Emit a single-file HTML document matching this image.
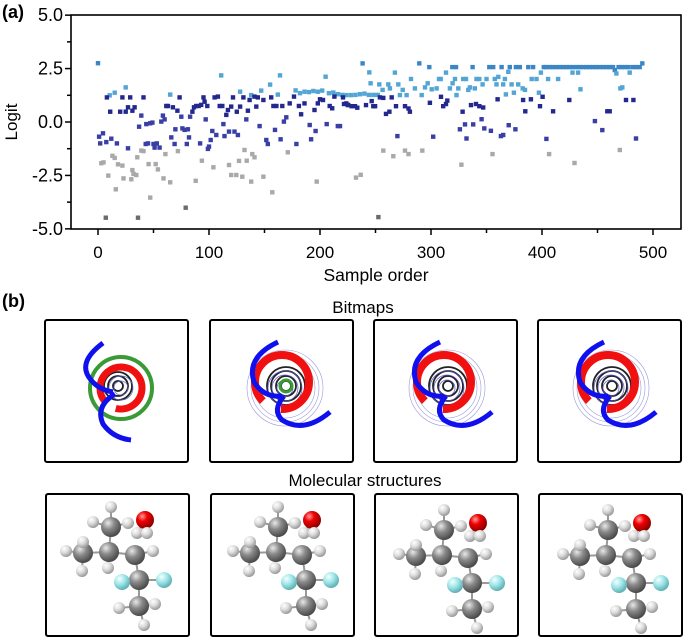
<!DOCTYPE html>
<html><head><meta charset="utf-8">
<style>
html,body{margin:0;padding:0;background:#fff;}
svg{display:block;font-family:"Liberation Sans",Arial,sans-serif;}
</style></head>
<body>
<svg id="fig" width="685" height="640" viewBox="0 0 685 640" xmlns="http://www.w3.org/2000/svg">
<defs>
<radialGradient id="gC" cx="35%" cy="30%" r="70%"><stop offset="0" stop-color="#e8e8e8"/><stop offset="0.45" stop-color="#8a8a8a"/><stop offset="1" stop-color="#4a4a4a"/></radialGradient>
<radialGradient id="gH" cx="35%" cy="30%" r="70%"><stop offset="0" stop-color="#ffffff"/><stop offset="0.5" stop-color="#dcdcdc"/><stop offset="1" stop-color="#9a9a9a"/></radialGradient>
<radialGradient id="gO" cx="35%" cy="30%" r="70%"><stop offset="0" stop-color="#ff9a9a"/><stop offset="0.4" stop-color="#ee0000"/><stop offset="1" stop-color="#8a0000"/></radialGradient>
<radialGradient id="gF" cx="35%" cy="30%" r="70%"><stop offset="0" stop-color="#f4ffff"/><stop offset="0.5" stop-color="#9fe6e8"/><stop offset="1" stop-color="#5fb0b4"/></radialGradient>
</defs>
<text x="2" y="18" font-size="18" font-weight="bold">(a)</text>
<text x="2" y="307" font-size="18" font-weight="bold">(b)</text>
<g id="chart"></g>
<text x="363" y="313" font-size="17" text-anchor="middle">Bitmaps</text>
<text x="365" y="486" font-size="17" text-anchor="middle">Molecular structures</text>
<g id="bitmaps"></g>
<g id="mols"></g>
</svg>
<script>
const xTicks = [0,100,200,300,400,500];
const yTicks = [5.0,2.5,0.0,-2.5,-5.0];
const yTickLabels = ["5.0","2.5","0.0","-2.5","-5.0"];
const sampleX = [
0,10.5,15,25,65,111,128,138,147,155,162,164,205,
178,182,186,190,194,198,202,208,212,216,220,224,228,232,236,240,244,248,252,
1,2,4.5,7.5,8,12,11,17,20,22,25,27,27,29,31,33,37,39,41,43,43.5,45,47,49,50,51,53,55.5,57,58.5,60,61.5,63,66,67.5,69,69.7,71.5,73.5,75,76,78,80,81,82,83,85,86.5,88.5,90.7,92,93,95,96,97,98.5,100,101.5,103,105,106.6,108,109.6,112,113,114,115.6,117,118,120,121.6,123,125,126,128,131,133.6,135,136.6,141,142.6,144,145.6,149,151.6,153,156,158,159.5,160.7,164.5,166,167.5,169.6,172.7,176.6,178.7,181,183,186,190.7,192,195,196,198,200,202.7,206,208.7,211,213,216,218,220.7,223.7,225,
221.6,225.5,228.5,231.5,233.6,241.4,246.6,248,249.6,254,257,259.5,262.5,264.6,268.5,269.7,276.6,279.7,281,299,302,309,311,313.5,314.7,326,328.5,330.6,332,336,338,340.5,343.5,345.6,347,348,354,360,363,365,370,376,383,385,390,398.2,404,410,424.6,447.7,454.3,458.8,461,475.7,482.3,484.7,
3,5,7,9.3,13,15,16,18,22,23,30,31,32,34.5,35.4,36,39,41,45.6,47,52,54,59,60.7,65,72,79,93.6,88,99,104,118,120,124.6,127,130,132,134,138,139,141,149,157,171,197,
232.4,236.7,252.6,257,266,276.6,279.7,292.2,327.4,355.4,406.4,429.3,470.1,
238.4,244.4,245.6,253.4,256.4,261.5,263,267.5,270.5,272,274.5,278,282,285.5,289.5,291.6,294.6,297,298.5,300.6,305,307.2,308.7,313.5,317,319.5,321.6,323,324.6,319.2,322.5,329,331.5,333.6,335,337.5,339.5,341,343.5,346.5,350,352.5,356,357.5,359,360.6,363.6,365,366.6,367.5,369.6,371,372.6,374.7,376.5,378.6,380,382.6,384.7,387.7,390.7,392,395,397.2,399,400.5,401.6,405.5,414.5,427.5,432.5,434.7,465.6,467,470.6,472.3,479,490.4,
404,407,410,413,416,419,422,425,428,431,434,437,440,443,446,449,452,455,458,461,464,469,472,475,478,482,485,488
];
const logitY = [
2.75,1.25,1.37,1.62,1.28,2.18,1.42,1.26,1.47,1.75,1.28,2.18,2.12,
1.48,1.35,1.42,1.4,1.45,1.42,1.47,1.35,1.38,1.3,1.27,1.26,1.26,1.27,1.3,1.33,1.27,1.27,1.27,
-0.69,-1.0,-0.53,-0.94,1.15,-0.78,0.48,-1.0,0.48,1.15,0.48,0.69,-1.23,1.15,0.53,0.69,-0.22,0.3,1.15,-1.03,-0.1,-1.0,-0.06,-0.03,-1.03,-1.2,-1.0,-1.2,0.02,0.3,0.12,0.75,0.75,-0.72,0.69,-1.03,-0.34,0.53,1.15,0.25,-0.3,-0.37,-1.03,-0.34,-0.72,0.25,0.48,0.69,0.75,0.75,-1.0,0.8,1.15,0.95,0.12,0.75,-1.15,-0.84,-0.42,1.15,-0.61,1.19,0.75,0.75,-0.1,-0.66,0.33,0.56,-0.45,0.72,1.15,-0.45,0.48,-0.61,0.72,1.15,0.12,0.53,1.03,1.19,0.72,1.15,-0.19,1.03,-0.84,-1.03,1.15,0.75,-0.37,0.75,-0.81,0.75,0.02,0.22,0.87,1.19,-1.03,0.75,0.36,0.87,-0.14,-0.81,0.56,-0.42,0.87,1.06,1.03,-0.1,0.75,0.64,1.19,-0.19,-0.19,1.15,0.87,0.8,
0.84,0.79,0.74,0.74,0.67,0.79,0.98,0.74,0.74,1.15,1.13,0.38,0.48,1.15,0.74,-0.66,0.74,0.63,0.48,0.9,-0.69,1.18,0.74,0.84,1.0,-0.34,0.48,-0.11,-0.77,0.79,-0.11,0.84,0.74,0.13,0.68,-0.3,-0.41,1.06,-0.66,-0.61,-0.15,-0.34,1.03,0.5,1.06,0.74,-0.79,0.5,1.03,0.04,-0.38,0.5,0.5,1.03,1.03,-0.77,
-1.93,-1.89,-4.48,-2.51,-1.58,-1.68,-3.15,-1.98,-2.04,-2.64,-2.68,-2.25,-2.43,-2.48,-1.65,-4.48,-1.34,-1.36,-1.97,-3.54,-1.97,-2.22,-2.64,-1.5,-2.82,-1.36,-4.01,-1.81,-2.75,-1.26,-2.12,-2.01,-2.48,-2.48,-1.82,-2.56,-1.31,-1.81,-2.79,-1.5,-1.65,-2.56,-3.29,-1.42,-2.79,
-2.6,-2.47,-4.45,-1.34,-1.6,-1.34,-1.5,-1.34,-2.0,-1.5,-1.5,-1.92,-1.31,
2.74,2.32,1.81,1.76,1.5,1.76,1.57,2.31,1.76,1.26,1.5,1.26,2.01,1.57,2.74,1.26,1.62,1.81,2.57,1.53,1.57,2.01,2.01,2.31,1.57,1.81,2.01,1.26,1.57,2.57,2.57,2.01,2.01,1.5,1.62,2.57,1.57,2.01,2.01,1.76,2.01,2.57,2.57,2.01,1.76,2.11,2.57,1.76,2.01,1.29,2.35,2.57,1.76,1.37,2.57,1.76,2.57,1.57,1.5,2.57,2.01,2.57,2.01,1.37,2.31,1.18,2.57,2.01,2.01,2.31,2.31,1.53,2.43,2.27,1.57,1.62,2.31,2.74,
2.57,2.57,2.57,2.57,2.57,2.57,2.57,2.57,2.57,2.57,2.57,2.57,2.57,2.57,2.57,2.57,2.57,2.57,2.57,2.57,2.57,2.57,2.57,2.57,2.57,2.57,2.57,2.57
];
const NS="http://www.w3.org/2000/svg";
function mk(tag,attrs,parent){const e=document.createElementNS(NS,tag);for(const k in attrs)e.setAttribute(k,attrs[k]);parent.appendChild(e);return e;}
const L=71,R=681,T=15,B=229;
function xs(v){return 98+v*1.11;}
function ys(v){return 122-v*21.37;}
function col(v){if(v>2.4)return "#3d86c6";if(v>1.2)return "#52a5d4";if(v>0.3)return "#23288e";if(v>-1.3)return "#3a3fa6";if(v>-3.8)return "#a9a9a9";return "#6b6b6b";}
const chart=document.getElementById('chart');
const pts=mk('g',{},chart);


for(let i=0;i<sampleX.length;i++){
  const r=mk('rect',{x:(xs(sampleX[i])-2.2).toFixed(1),y:(ys(logitY[i])-2.2).toFixed(1),width:4.4,height:4.4,fill:col(logitY[i])},pts);
  
  
}
const frame=mk('rect',{x:L,y:T,width:R-L,height:B-T,fill:'none',stroke:'#000','stroke-width':1.6},chart);


const yax=mk('g',{},chart);


for(let v=-5;v<=5.01;v+=1.25){mk('line',{x1:L,x2:L-(Math.abs(v%2.5)<0.01?6:4),y1:ys(v),y2:ys(v),stroke:'#000','stroke-width':1.5},yax);}
yTicks.forEach((v,i)=>{
const t=mk('text',{x:63,y:ys(v)+6,'font-size':18,'text-anchor':'end'},yax);t.textContent=yTickLabels[i];

});
const xax=mk('g',{},chart);


for(let v=0;v<=500;v+=50){mk('line',{x1:xs(v),x2:xs(v),y1:B,y2:B+(v%100===0?6:4),stroke:'#000','stroke-width':1.5},xax);}
xTicks.forEach(v=>{const t=mk('text',{x:xs(v),y:258,'font-size':17,'text-anchor':'middle'},xax);t.textContent=String(v);

});
const xt=mk('text',{x:376,y:281,'font-size':17.5,'text-anchor':'middle'},chart);xt.textContent='Sample order';


const yt=mk('text',{x:17,y:122,'font-size':17,'text-anchor':'middle',transform:'rotate(-90 17 122)'},chart);yt.textContent='Logit';



// bitmaps
const bm=document.getElementById('bitmaps');
const boxX=[45,210,374,538];
function ring(g,cx,cy,r,color,w,gapFrac,rot){
  const c=2*Math.PI*r;
  mk('circle',{cx:cx,cy:cy,r:r,fill:'none',stroke:color,'stroke-width':w,'stroke-dasharray':`${c*(1-gapFrac)} ${c*gapFrac}`,transform:`rotate(${rot} ${cx} ${cy})`},g);
}
function spiral(g,k,bx){
  const by=320;
  mk('rect',{x:bx,y:by,width:143,height:142,rx:2,fill:'#fff',stroke:'#000','stroke-width':2},g);
  if(k===0){
    const cx=bx+76,cy=by+68;
    mk('circle',{cx:cx,cy:cy,r:31,fill:'none',stroke:'#3a9a35','stroke-width':4},g);
    [5,10,14].forEach(r=>mk('circle',{cx:cx-3,cy:cy-2,r:r,fill:'none',stroke:'#222','stroke-width':1.8},g));
    [7,12].forEach(r=>mk('circle',{cx:cx,cy:cy,r:r,fill:'none',stroke:'#6666cc','stroke-width':0.7},g));
    ring(g,cx,cy,21,'#f01010',7,0.1,140);
    mk('path',{d:`M${cx-18} ${cy-45} Q${cx-45} ${cy-25} ${cx-30} ${cy-8} Q${cx-22} ${cy+2} ${cx-8} ${cy+4}`,fill:'none',stroke:'#1010ee','stroke-width':5},g);
    mk('path',{d:`M${cx-6} ${cy+6} Q${cx-26} ${cy+18} ${cx-18} ${cy+36} Q${cx-8} ${cy+50} ${cx+10} ${cy+52}`,fill:'none',stroke:'#1010ee','stroke-width':5},g);
  } else {
    const cx=bx+(k===1?72:70),cy=by+62;
    [30,34,38].forEach(r=>mk('circle',{cx:cx+3,cy:cy+6,r:r,fill:'none',stroke:'#9999dd','stroke-width':0.6},g));
    [5,10,15,19].forEach(r=>mk('circle',{cx:cx+4,cy:cy+4,r:r,fill:'none',stroke:'#222','stroke-width':1.8},g));
    [8,13,17].forEach(r=>mk('circle',{cx:cx+3,cy:cy+6,r:r,fill:'none',stroke:'#5555cc','stroke-width':0.7},g));
    if(k===1)mk('circle',{cx:cx+4,cy:cy+4,r:6,fill:'none',stroke:'#3a9a35','stroke-width':3},g);
    ring(g,cx,cy,27,'#f01010',8,0.12,135);
    mk('path',{d:`M${cx-4} ${cy-40} Q${cx-36} ${cy-25} ${cx-28} ${cy} Q${cx-18} ${cy+16} ${cx} ${cy+14}`,fill:'none',stroke:'#1010ee','stroke-width':5},g);
    mk('path',{d:`M${cx+2} ${cy+14} Q${cx-10} ${cy+28} ${cx} ${cy+38} Q${cx+22} ${cy+52} ${cx+48} ${cy+30}`,fill:'none',stroke:'#1010ee','stroke-width':5},g);
  }
}
boxX.forEach((bx,k)=>{const g=mk('g',{},bm);


spiral(g,k,bx);});

// molecules
const mo=document.getElementById('mols');
const atoms=[
['C',65,33],['C',63,58],['C',37,59],['C',89,61],['C',93,86],['C',93,112],
['O',99,26],['F',76,88],['F',118,86],
['H',65,13],['H',47,28],['H',82,29],['H',91,39],['H',101,39],['H',37,48],['H',20,57],['H',36,77],['H',62,74],['H',107,57],['H',73,114],['H',109,110],['H',98,131]];
const bonds=[[0,1],[1,2],[1,3],[3,4],[4,5],[4,7],[4,8],[0,9],[0,10],[0,11],[6,12],[6,13],[2,14],[2,15],[2,16],[1,17],[3,18],[5,19],[5,20],[5,21]];
const molX=[46,211,375,539];
const shifts=[[0,0],[2,0],[4,3],[4,3]];
molX.forEach((bx,k)=>{
  const g=mk('g',{},mo);
  
  
  const by=494;
  mk('rect',{x:bx,y:by,width:143,height:142,rx:2,fill:'#fff',stroke:'#000','stroke-width':2},g);
  const sx=shifts[k][0],sy=shifts[k][1];
  bonds.forEach(b=>{const a=atoms[b[0]],c=atoms[b[1]];mk('line',{x1:bx+a[1]+sx,y1:by+a[2]+sy,x2:bx+c[1]+sx,y2:by+c[2]+sy,stroke:'#999','stroke-width':2},g);});
  atoms.forEach(a=>{const r=a[0]==='C'?10:a[0]==='H'?6:a[0]==='O'?9:8;
    const f=a[0]==='C'?'url(#gC)':a[0]==='H'?'url(#gH)':a[0]==='O'?'url(#gO)':'url(#gF)';
    mk('circle',{cx:bx+a[1]+sx,cy:by+a[2]+sy,r:r,fill:f},g);});
});
</script>
</body></html>
